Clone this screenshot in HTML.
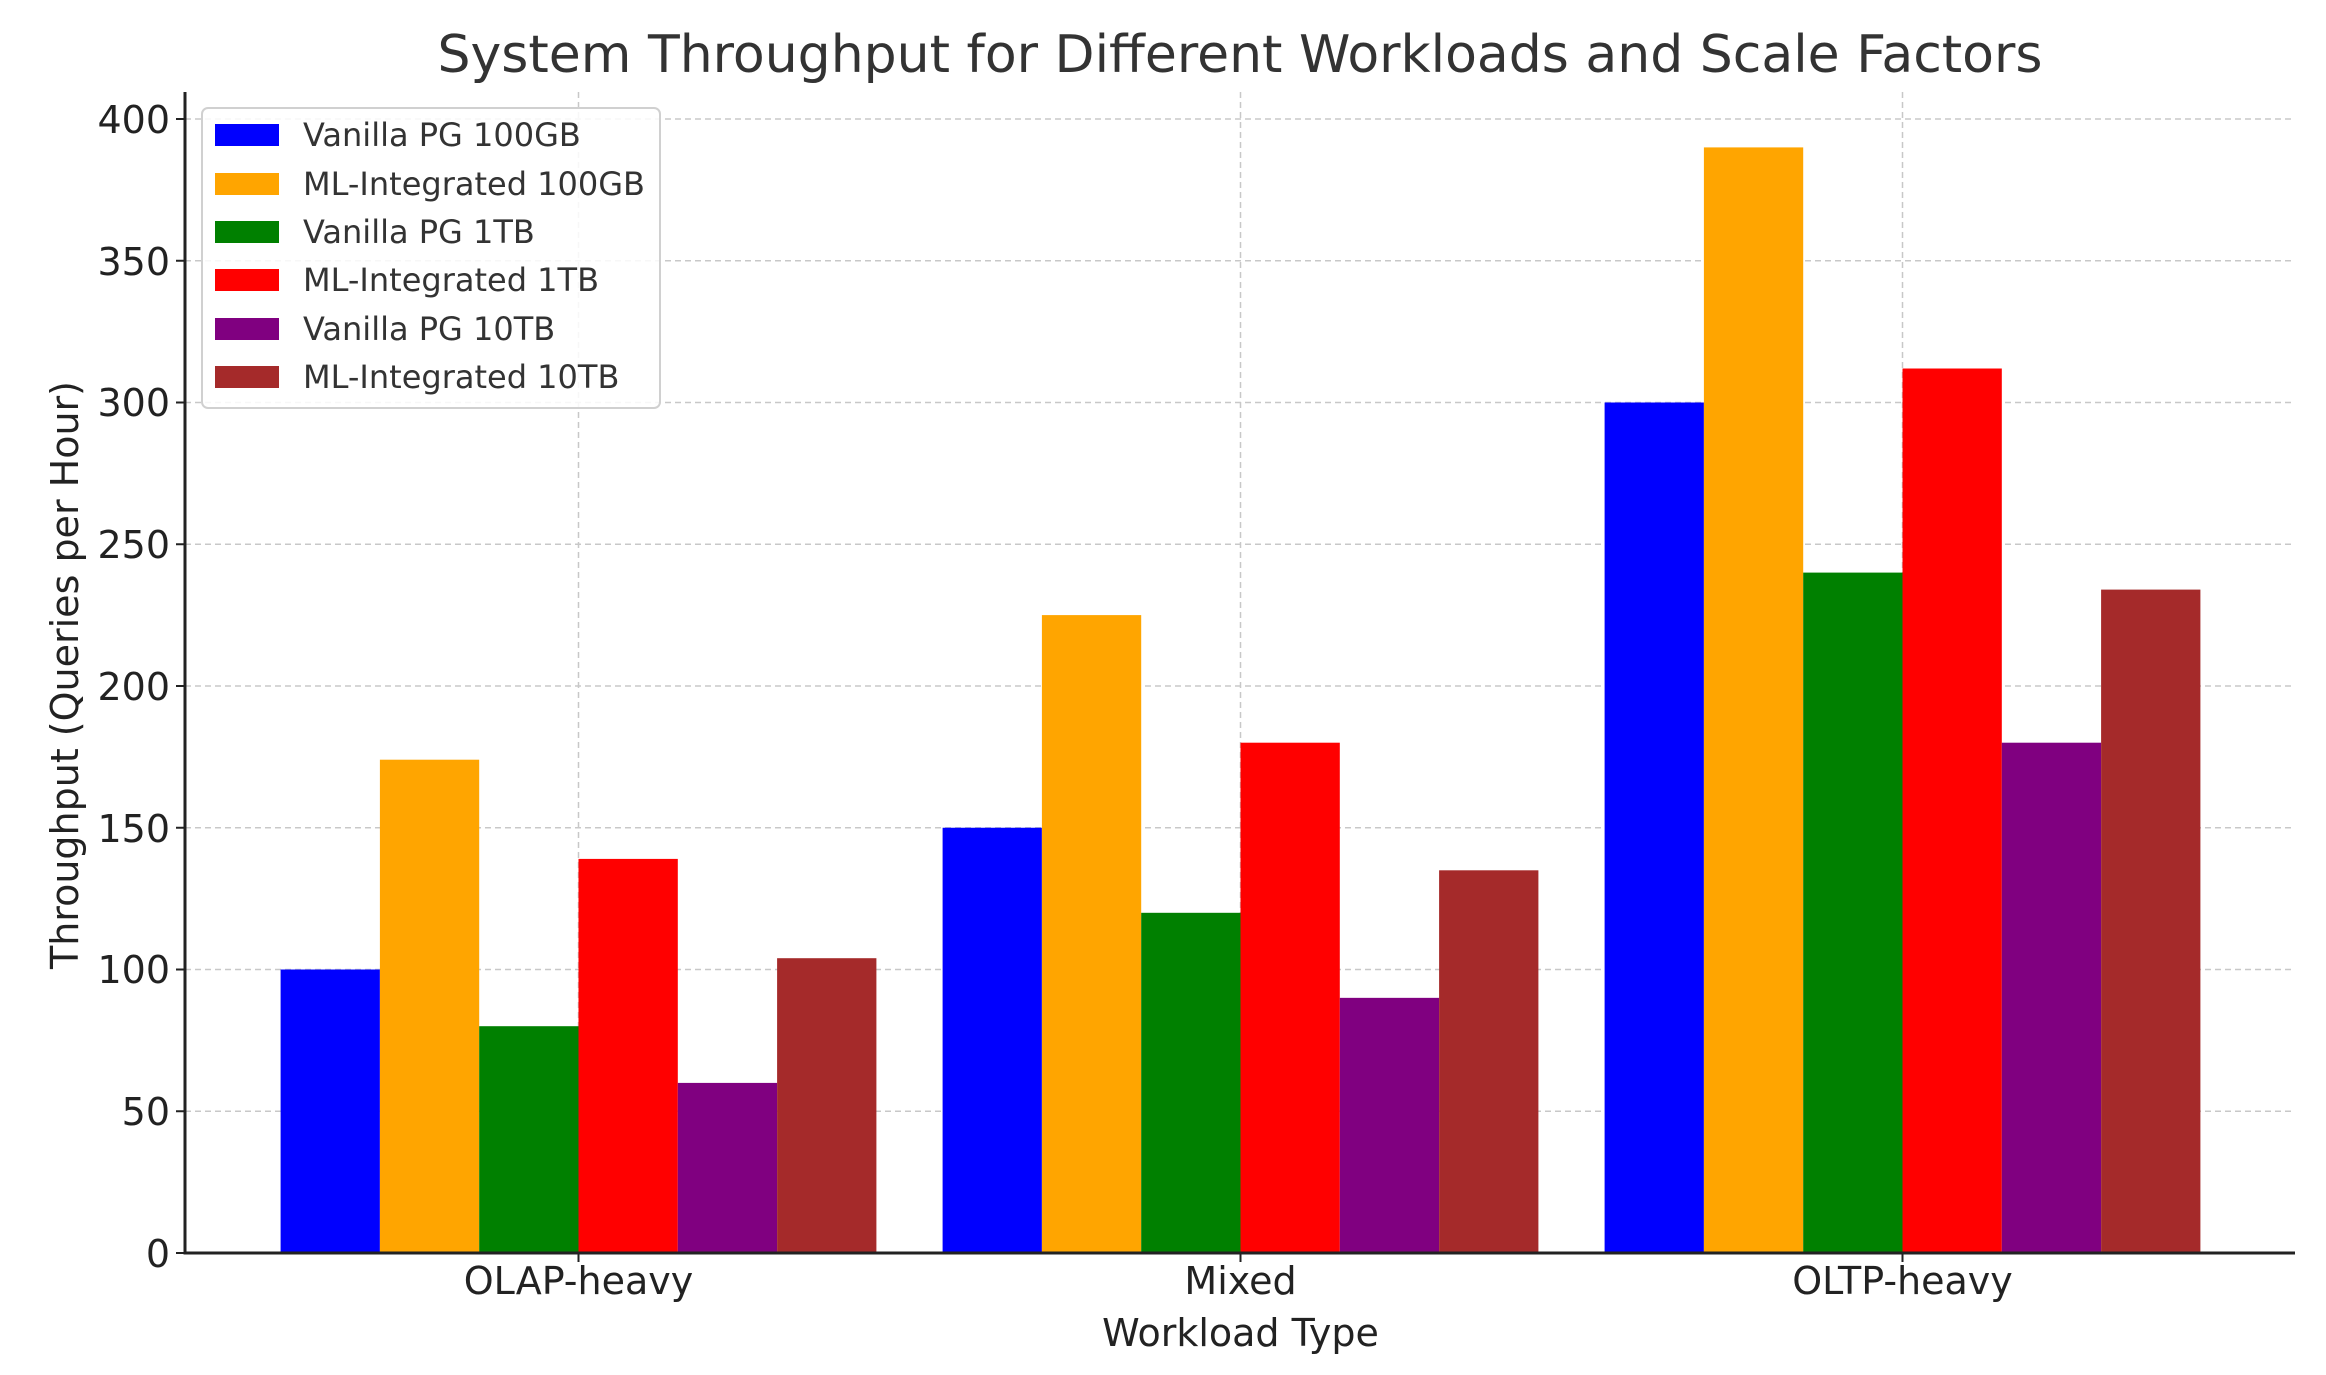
<!DOCTYPE html>
<html><head><meta charset="utf-8"><style>html,body{margin:0;padding:0;background:#fff}svg{display:block}</style></head>
<body>
<svg width="2326" height="1375" xmlns="http://www.w3.org/2000/svg" font-family="DejaVu Sans, Liberation Sans, sans-serif">
<rect width="2326" height="1375" fill="#fff"/>
<g stroke="#c8c8c8" stroke-width="1.5" stroke-dasharray="6,4">
<line x1="185" x2="2295" y1="1111.25" y2="1111.25"/>
<line x1="185" x2="2295" y1="969.5" y2="969.5"/>
<line x1="185" x2="2295" y1="827.75" y2="827.75"/>
<line x1="185" x2="2295" y1="686" y2="686"/>
<line x1="185" x2="2295" y1="544.25" y2="544.25"/>
<line x1="185" x2="2295" y1="402.5" y2="402.5"/>
<line x1="185" x2="2295" y1="260.75" y2="260.75"/>
<line x1="185" x2="2295" y1="119" y2="119"/>
<line x1="578.5" x2="578.5" y1="92" y2="1253"/>
<line x1="1240.5" x2="1240.5" y1="92" y2="1253"/>
<line x1="1902.5" x2="1902.5" y1="92" y2="1253"/>
</g>
<g>
<rect x="280.6" y="969.5" width="99.3" height="283.5" fill="#0000ff"/>
<rect x="379.9" y="759.7" width="99.3" height="493.3" fill="#ffa500"/>
<rect x="479.2" y="1026.2" width="99.3" height="226.8" fill="#008000"/>
<rect x="578.5" y="858.9" width="99.3" height="394.1" fill="#ff0000"/>
<rect x="677.8" y="1082.9" width="99.3" height="170.1" fill="#800080"/>
<rect x="777.1" y="958.2" width="99.3" height="294.8" fill="#a52a2a"/>
<rect x="942.6" y="827.75" width="99.3" height="425.25" fill="#0000ff"/>
<rect x="1041.9" y="615.1" width="99.3" height="637.9" fill="#ffa500"/>
<rect x="1141.2" y="912.8" width="99.3" height="340.2" fill="#008000"/>
<rect x="1240.5" y="742.7" width="99.3" height="510.3" fill="#ff0000"/>
<rect x="1339.8" y="997.85" width="99.3" height="255.15" fill="#800080"/>
<rect x="1439.1" y="870.3" width="99.3" height="382.7" fill="#a52a2a"/>
<rect x="1604.6" y="402.5" width="99.3" height="850.5" fill="#0000ff"/>
<rect x="1703.9" y="147.4" width="99.3" height="1105.6" fill="#ffa500"/>
<rect x="1803.2" y="572.6" width="99.3" height="680.4" fill="#008000"/>
<rect x="1902.5" y="368.5" width="99.3" height="884.5" fill="#ff0000"/>
<rect x="2001.8" y="742.7" width="99.3" height="510.3" fill="#800080"/>
<rect x="2101.1" y="589.6" width="99.3" height="663.4" fill="#a52a2a"/>
</g>
<g stroke="#222" stroke-width="3">
<line x1="185" y1="92" x2="185" y2="1254.5"/>
<line x1="183.5" y1="1253" x2="2295" y2="1253"/>
</g>
<g stroke="#222" stroke-width="2">
<line x1="176" x2="185" y1="1253" y2="1253"/><line x1="176" x2="185" y1="1111.25" y2="1111.25"/><line x1="176" x2="185" y1="969.5" y2="969.5"/><line x1="176" x2="185" y1="827.75" y2="827.75"/><line x1="176" x2="185" y1="686" y2="686"/><line x1="176" x2="185" y1="544.25" y2="544.25"/><line x1="176" x2="185" y1="402.5" y2="402.5"/><line x1="176" x2="185" y1="260.75" y2="260.75"/><line x1="176" x2="185" y1="119" y2="119"/>
<line x1="578.5" x2="578.5" y1="1253" y2="1262"/><line x1="1240.5" x2="1240.5" y1="1253" y2="1262"/><line x1="1902.5" x2="1902.5" y1="1253" y2="1262"/>
</g>
<g font-size="38" fill="#222" text-anchor="end">
<text x="170" y="1267">0</text><text x="170" y="1125">50</text><text x="170" y="983">100</text><text x="170" y="842">150</text><text x="170" y="700">200</text><text x="170" y="558">250</text><text x="170" y="416">300</text><text x="170" y="275">350</text><text x="170" y="133">400</text>
</g>
<g font-size="38" fill="#222" text-anchor="middle">
<text x="578.5" y="1294">OLAP-heavy</text><text x="1240.5" y="1294">Mixed</text><text x="1902.5" y="1294">OLTP-heavy</text>
<text x="1240.5" y="1346">Workload Type</text>
<text transform="translate(78,675) rotate(-90)">Throughput (Queries per Hour)</text>
</g>
<text x="1240" y="72" font-size="52" fill="#333" text-anchor="middle">System Throughput for Different Workloads and Scale Factors</text>
<rect x="202" y="108" width="458" height="300" rx="6" fill="#fff" fill-opacity="0.85" stroke="#d0d0d0" stroke-width="2"/>
<g font-size="32" fill="#333">
<rect x="215" y="124" width="64" height="22" fill="#0000ff"/><text x="303" y="146">Vanilla PG 100GB</text>
<rect x="215" y="173" width="64" height="22" fill="#ffa500"/><text x="303" y="195">ML-Integrated 100GB</text>
<rect x="215" y="221" width="64" height="22" fill="#008000"/><text x="303" y="243">Vanilla PG 1TB</text>
<rect x="215" y="269" width="64" height="22" fill="#ff0000"/><text x="303" y="291">ML-Integrated 1TB</text>
<rect x="215" y="318" width="64" height="22" fill="#800080"/><text x="303" y="340">Vanilla PG 10TB</text>
<rect x="215" y="366" width="64" height="22" fill="#a52a2a"/><text x="303" y="388">ML-Integrated 10TB</text>
</g>
</svg>
</body></html>
